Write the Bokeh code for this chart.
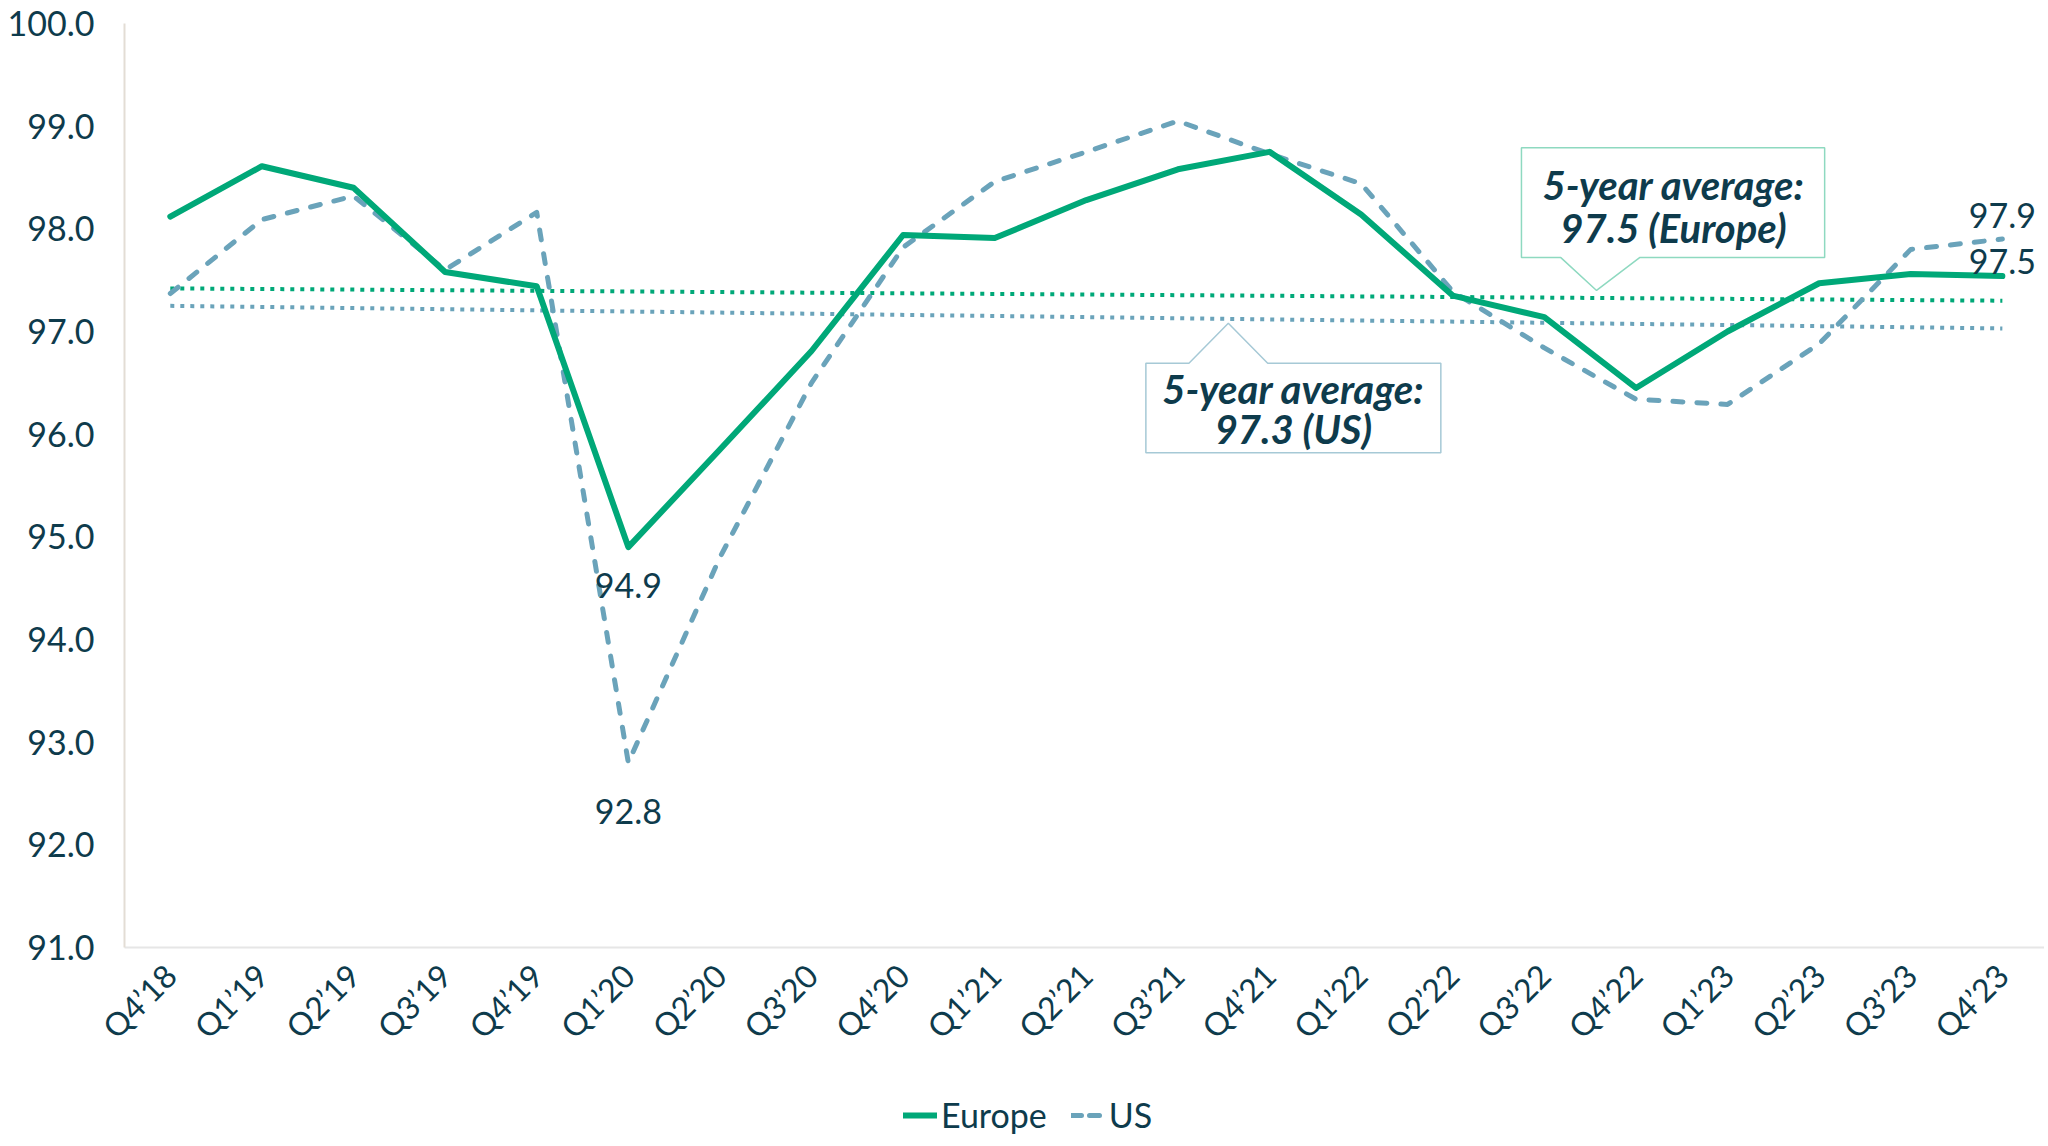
from math import pi

from bokeh.plotting import figure
from bokeh.layouts import column
from bokeh.models import (
    ColumnDataSource,
    FixedTicker,
    Legend,
    LegendItem,
    NumeralTickFormatter,
    Range1d,
)
from bokeh.core.properties import value
from bokeh.embed import file_html
from bokeh.resources import INLINE

# Data
quarters = [
    "Q4’18", "Q1’19", "Q2’19", "Q3’19", "Q4’19",
    "Q1’20", "Q2’20", "Q3’20", "Q4’20",
    "Q1’21", "Q2’21", "Q3’21", "Q4’21",
    "Q1’22", "Q2’22", "Q3’22", "Q4’22",
    "Q1’23", "Q2’23", "Q3’23", "Q4’23",
]
europe = [98.12, 98.61, 98.40, 97.58, 97.44, 94.9, 95.85, 96.81, 97.94,
          97.91, 98.28, 98.58, 98.75, 98.14, 97.35, 97.14, 96.45, 97.0,
          97.47, 97.56, 97.54]
us = [97.37, 98.09, 98.32, 97.60, 98.16, 92.8, 94.8, 96.50, 97.82, 98.46,
      98.75, 99.05, 98.73, 98.44, 97.39, 96.84, 96.34, 96.29, 96.88, 97.80,
      97.9]
europe_trend = [97.42, 97.30]
us_trend = [97.25, 97.03]
y_ticks = [91, 92, 93, 94, 95, 96, 97, 98, 99, 100]

GREEN = "#00a878"
BLUE = "#6aa3ba"
TEXT = "#0e3b4c"
FONT = "Lato"

x_idx = list(range(len(quarters)))
source = ColumnDataSource(dict(x=x_idx, europe=europe, us=us))

p = figure(
    width=2044,
    height=1077,
    x_range=Range1d(-0.5, 20.46),
    y_range=Range1d(91, 100),
    output_backend="svg",
    toolbar_location=None,
    min_border_left=124,
    min_border_right=0,
    min_border_top=23,
    min_border_bottom=130,
)

# trend / average lines
p.line([0, 20], europe_trend, line_color=GREEN, line_width=4, line_dash="4 6")
p.line([0, 20], us_trend, line_color=BLUE, line_width=4, line_dash="4 6")

p.line("x", "us", source=source, line_color=BLUE, line_width=5,
       line_dash="10 14", line_cap="round", line_join="round")
p.line("x", "europe", source=source, line_color=GREEN, line_width=6,
       line_join="round", line_cap="round")

# callout boxes
p.patch(
    [14.75, 18.06, 18.06, 16.04, 15.57, 15.18, 14.75],
    [98.79, 98.79, 97.72, 97.72, 97.40, 97.72, 97.72],
    fill_color="white", line_color="#8ed9c0", line_width=1.5,
)
p.patch(
    [10.65, 11.12, 11.55, 11.98, 13.87, 13.87, 10.65],
    [96.69, 96.69, 97.08, 96.69, 96.69, 95.82, 95.82],
    fill_color="white", line_color="#a6c9d6", line_width=1.5,
)
p.text(
    x=[16.41, 16.41, 12.26, 12.26],
    y=[98.43, 98.01, 96.44, 96.05],
    text=["5-year average:", "97.5 (Europe)", "5-year average:", "97.3 (US)"],
    text_font=value(FONT), text_font_style="bold italic",
    text_font_size="40px", text_color=TEXT,
    text_align="center", text_baseline="middle",
)

# data labels
lbl = dict(text_font=value(FONT), text_font_size="34px", text_color=TEXT,
           text_align="center", text_baseline="middle")
p.text(x=[5], y=[europe[5]], text=[f"{europe[5]:.1f}"], y_offset=38, **lbl)
p.text(x=[5], y=[us[5]], text=[f"{us[5]:.1f}"], y_offset=49, **lbl)
p.text(x=[20], y=[us[20]], text=[f"{us[20]:.1f}"], y_offset=-24, **lbl)
p.text(x=[20], y=[europe[20]], text=[f"{europe[20]:.1f}"], y_offset=-15, **lbl)

# axes
p.yaxis.ticker = FixedTicker(ticks=y_ticks)
p.yaxis.formatter = NumeralTickFormatter(format="0.0")
p.xaxis.ticker = FixedTicker(ticks=x_idx)
p.xaxis.major_label_overrides = {i: q for i, q in enumerate(quarters)}
p.xaxis.major_label_orientation = pi / 4
for ax in (p.xaxis, p.yaxis):
    ax.major_tick_line_color = None
    ax.minor_tick_line_color = None
    ax.major_label_text_font = FONT
    ax.major_label_text_color = TEXT
p.yaxis.major_label_text_font_size = "34px"
p.xaxis.major_label_text_font_size = "32px"
p.yaxis.major_label_standoff = 24
p.xaxis.major_label_standoff = 16
p.yaxis.axis_line_color = "#e3ddd5"
p.yaxis.axis_line_width = 2
p.xaxis.axis_line_color = "#e6e6e6"
p.xaxis.axis_line_width = 2

p.xgrid.grid_line_color = None
p.ygrid.grid_line_color = None
p.outline_line_color = None

# legend strip under the chart
leg = figure(
    width=2044,
    height=69,
    x_range=Range1d(0, 1),
    y_range=Range1d(0, 1),
    output_backend="svg",
    toolbar_location=None,
    x_axis_type=None,
    y_axis_type=None,
    min_border=0,
)
leg.outline_line_color = None
leg.xgrid.grid_line_color = None
leg.ygrid.grid_line_color = None
# keys only: their points sit outside the visible range
k_eu = leg.line(x=[-2, -1], y=[-2, -2], line_color=GREEN, line_width=6,
                line_cap="round")
k_us = leg.line(x=[-2, -1], y=[-2, -2], line_color=BLUE, line_width=5,
                line_dash="10 8", line_cap="round")
legend = Legend(
    items=[LegendItem(label="Europe", renderers=[k_eu]),
           LegendItem(label="US", renderers=[k_us])],
    orientation="horizontal",
    location=(779, 11),
    label_text_font=FONT,
    label_text_font_size="34px",
    label_text_color=TEXT,
    glyph_width=34,
    spacing=24,
    label_standoff=4,
    border_line_color=None,
    background_fill_alpha=0,
    padding=10,
    margin=0,
)
leg.add_layout(legend, "center")

page = column(p, leg)
open("out.html", "w").write(file_html(page, INLINE))
